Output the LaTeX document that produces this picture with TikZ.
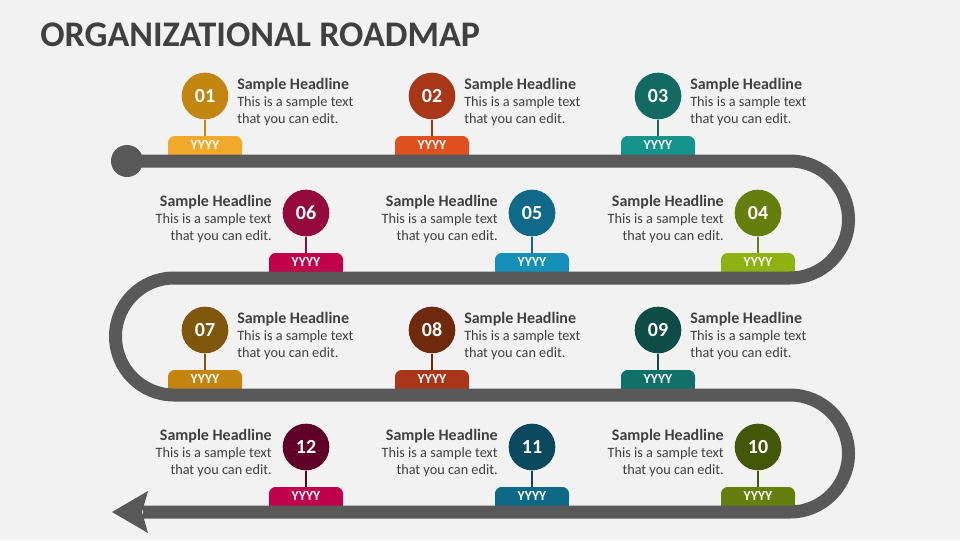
\documentclass[tikz,border=0pt]{standalone}
\usepackage{fontspec}
\setmainfont{Carlito}
\definecolor{bg}{HTML}{F2F2F2}
\definecolor{roadcol}{HTML}{595959}
\definecolor{txt}{HTML}{404040}
\definecolor{cA}{HTML}{C2850F}\definecolor{tA}{HTML}{F0A92A}
\definecolor{cB}{HTML}{A83718}\definecolor{tB}{HTML}{E0501E}
\definecolor{cC}{HTML}{116B63}\definecolor{tC}{HTML}{14948B}
\definecolor{cD}{HTML}{657F0F}\definecolor{tD}{HTML}{8DB211}
\definecolor{cE}{HTML}{0E6A88}\definecolor{tE}{HTML}{1490B8}
\definecolor{cF}{HTML}{950A3C}\definecolor{tF}{HTML}{C2004A}
\definecolor{cG}{HTML}{7F570A}\definecolor{tG}{HTML}{C3850F}
\definecolor{cH}{HTML}{6F2A0E}\definecolor{tH}{HTML}{A8371A}
\definecolor{cI}{HTML}{0E4D45}\definecolor{tI}{HTML}{0F7168}
\definecolor{cJ}{HTML}{435708}\definecolor{tJ}{HTML}{657F0F}
\definecolor{cK}{HTML}{0B4A5E}\definecolor{tK}{HTML}{0E6987}
\definecolor{cL}{HTML}{600026}\definecolor{tL}{HTML}{C0004A}
\tikzset{
  numcirc/.style={circle, minimum size=35pt, inner sep=0pt, text=white,
    font=\fontsize{15}{17}\selectfont\bfseries},
  tabbox/.style={rectangle, rounded corners=5pt, minimum width=55.5pt,
    minimum height=14.25pt, inner sep=0pt, text=white,
    font=\fontsize{10.3}{12}\selectfont\bfseries},
  stemline/.style={line width=2pt},
  headtxt/.style={inner sep=0pt, text=txt, font=\fontsize{12}{14}\selectfont\bfseries},
  bodytxt/.style={inner sep=0pt, text=txt, font=\fontsize{10.7}{13}\selectfont},
  roadline/.style={draw=roadcol, line width=9.75pt},
}
% #1 number, #2 cx, #3 road y, #4 circle colour, #5 tab colour, #6 side (1 = text right)
\newcommand{\mstone}[6]{%
  \fill[#5] ({#2-37},{-(#3-15)}) rectangle ({#2+37},{-(#3-4)});
  \node[tabbox, fill=#5] (t#1) at (#2,{-(#3-15.5)}) {YYYY};
  \node[numcirc, fill=#4] (c#1) at (#2,{-(#3-65)}) {#1};
  \draw[stemline, draw=#4] (c#1) -- (t#1);
  \ifnum#6=1
    \node[headtxt, anchor=base west] (h#1) at ({#2+32},{-(#3-72)}) {Sample Headline};
    \node[bodytxt, anchor=base west] (a#1) at ({#2+32},{-(#3-54.4)}) {This is a sample text};
    \node[bodytxt, anchor=base west] (b#1) at ({#2+32},{-(#3-38)}) {that you can edit.};
  \else
    \node[headtxt, anchor=base east] (h#1) at ({#2-34},{-(#3-72)}) {Sample Headline};
    \node[bodytxt, anchor=base east] (a#1) at ({#2-34},{-(#3-54.4)}) {This is a sample text};
    \node[bodytxt, anchor=base east] (b#1) at ({#2-34},{-(#3-38)}) {that you can edit.};
  \fi
}
\begin{document}
\begin{tikzpicture}[x=0.75pt,y=0.75pt]
\useasboundingbox (0,0) rectangle (960,-540);
\fill[bg] (0,0) rectangle (960,-540);
\node[inner sep=0pt, anchor=base west, text=txt, font=\fontsize{27}{30}\selectfont\bfseries] (title) at (40,-46) {ORGANIZATIONAL ROADMAP};
% milestones
\mstone{01}{205}{161}{cA}{tA}{1}
\mstone{02}{432}{161}{cB}{tB}{1}
\mstone{03}{658}{161}{cC}{tC}{1}
\mstone{04}{758}{278}{cD}{tD}{0}
\mstone{05}{532}{278}{cE}{tE}{0}
\mstone{06}{306}{278}{cF}{tF}{0}
\mstone{07}{205}{395}{cG}{tG}{1}
\mstone{08}{432}{395}{cH}{tH}{1}
\mstone{09}{658}{395}{cI}{tI}{1}
\mstone{10}{758}{512}{cJ}{tJ}{0}
\mstone{11}{532}{512}{cK}{tK}{0}
\mstone{12}{306}{512}{cL}{tL}{0}
% road
\fill[roadcol] (127,-161) circle (16);
\draw[roadline] (127,-161) -- (790,-161) arc[start angle=90,end angle=-90,radius=58.5]
  -- (174,-278) arc[start angle=90,end angle=270,radius=58.5]
  -- (790,-395) arc[start angle=90,end angle=-90,radius=58.5] -- (143,-512);
\fill[roadcol] (112,-512) -- (148,-491) -- (142,-512) -- (148,-533) -- cycle;
\end{tikzpicture}
\end{document}
